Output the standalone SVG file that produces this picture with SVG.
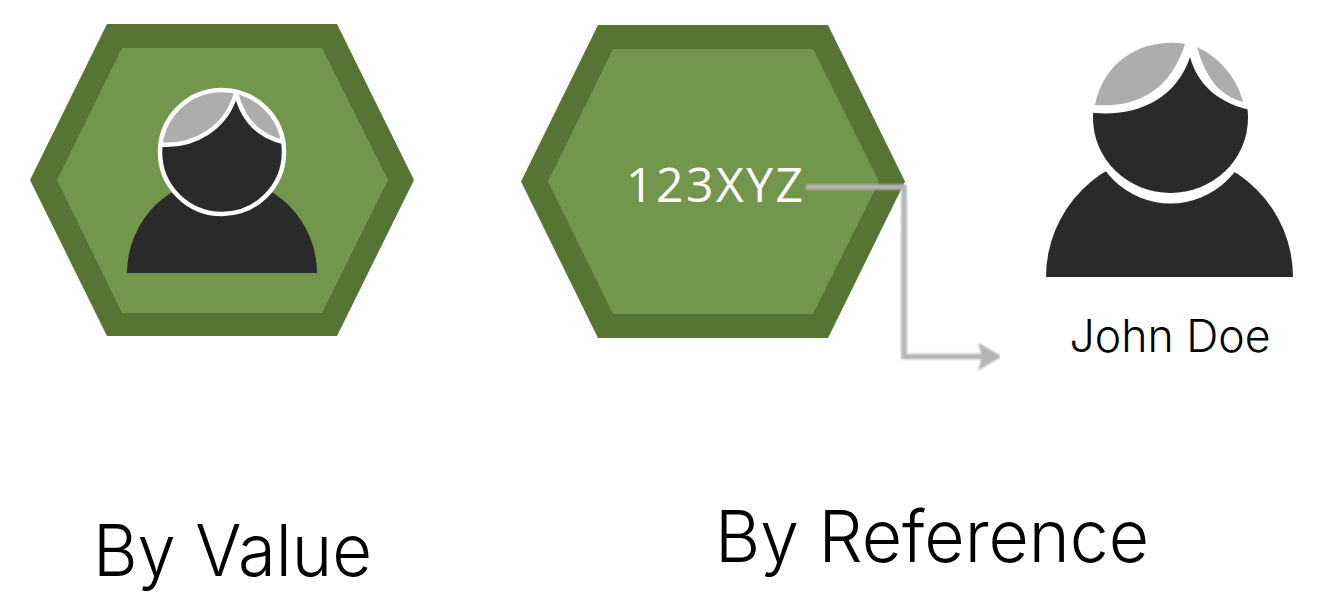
<svg xmlns="http://www.w3.org/2000/svg" xmlns:xlink="http://www.w3.org/1999/xlink" width="1324" height="604" viewBox="0 0 1324 604">
<style>
.outer{fill:#567534}
.inner{fill:#73964d}
.dark{fill:#2a2a2a}
.gray{fill:#adadad}
.ws{fill:none;stroke:#fff;stroke-width:4.500}
.cap{font-family:"Inter","Liberation Sans",Arial,sans-serif;font-weight:300;fill:#000}
.wire{fill:none;stroke:#b4b4b4;stroke-width:5.500}
</style>
<defs>
<clipPath id="headclip"><circle cx="222" cy="152" r="62"/></clipPath>
<clipPath id="headclip2"><ellipse cx="1170.500" cy="118" rx="77.500" ry="75"/></clipPath>
<filter id="soft" x="-10%" y="-10%" width="120%" height="120%"><feGaussianBlur stdDeviation="0.8"/></filter>
<filter id="faint" x="-5%" y="-5%" width="110%" height="110%"><feGaussianBlur stdDeviation="0.5"/></filter>
<marker id="arr" markerUnits="userSpaceOnUse" markerWidth="26" markerHeight="28" refX="4" refY="14" orient="auto"><path d="M0 0L24 14L0 28L4 14Z" fill="#b4b4b4"/></marker>
</defs>
<g id="hex-value">
<polygon class="outer" points="30,180 107,24 337,24 414,180 337,336 107,336"/>
<polygon class="inner" points="57,180 122,48 322,48 388,180 322,313 122,313"/>
<g id="person-value" filter="url(#faint)">
<path class="dark" d="M127 273A95 95 0 0 1 317 273Z"/>
<circle class="gray" cx="222" cy="152" r="62"/>
<path class="dark" clip-path="url(#headclip)" d="M156 144C194 149 227 127 236 93C243 121 259 138 288 143L292 223L152 223Z"/>
<path class="ws" clip-path="url(#headclip)" d="M156 144C194 149 227 127 236 93C243 121 259 138 288 143"/>
<circle class="ws" cx="222" cy="152" r="62"/>
</g>
</g>
<g id="hex-reference">
<polygon class="outer" points="521,181.500 598,25 828,25 905,181.500 828,338 598,338"/>
<polygon class="inner" points="548,181.500 613,49 813,49 879,181.500 813,314 613,314"/>
<text x="626" y="202" font-family="'Open Sans','DejaVu Sans',sans-serif" font-size="48" fill="#fff" textLength="177" lengthAdjust="spacing">123XYZ</text>
</g>
<g id="connectors">
<path class="wire" filter="url(#soft)" d="M806 187H904V356.500H982" marker-end="url(#arr)"/>
</g>
<g id="person-john">
<g filter="url(#faint)">
<path class="dark" d="M1046 277A123.500 123.500 0 0 1 1293 277Z"/>
<circle cx="1170.500" cy="122.500" r="81" fill="#fff"/>
<path class="gray" d="M1095 105C1135 108 1170 92 1185 44C1150 38 1105 55 1095 105Z"/>
<path class="gray" d="M1197 47C1207 82 1222 96 1243 102C1237 78 1220 58 1197 47Z"/>
<path class="dark" clip-path="url(#headclip2)" d="M1090 112.500C1135 118 1176 100 1190 57C1197 82 1215 102 1250 110L1250 195L1090 195Z"/>
</g>
<text class="cap" x="1170" y="352" font-size="45" text-anchor="middle" textLength="201" lengthAdjust="spacingAndGlyphs">John Doe</text>
</g>
<text class="cap" id="label-value" x="93" y="576" font-size="72" textLength="279" lengthAdjust="spacingAndGlyphs">By Value</text>
<text class="cap" id="label-reference" x="715" y="562" font-size="72" textLength="434" lengthAdjust="spacingAndGlyphs">By Reference</text>
</svg>
